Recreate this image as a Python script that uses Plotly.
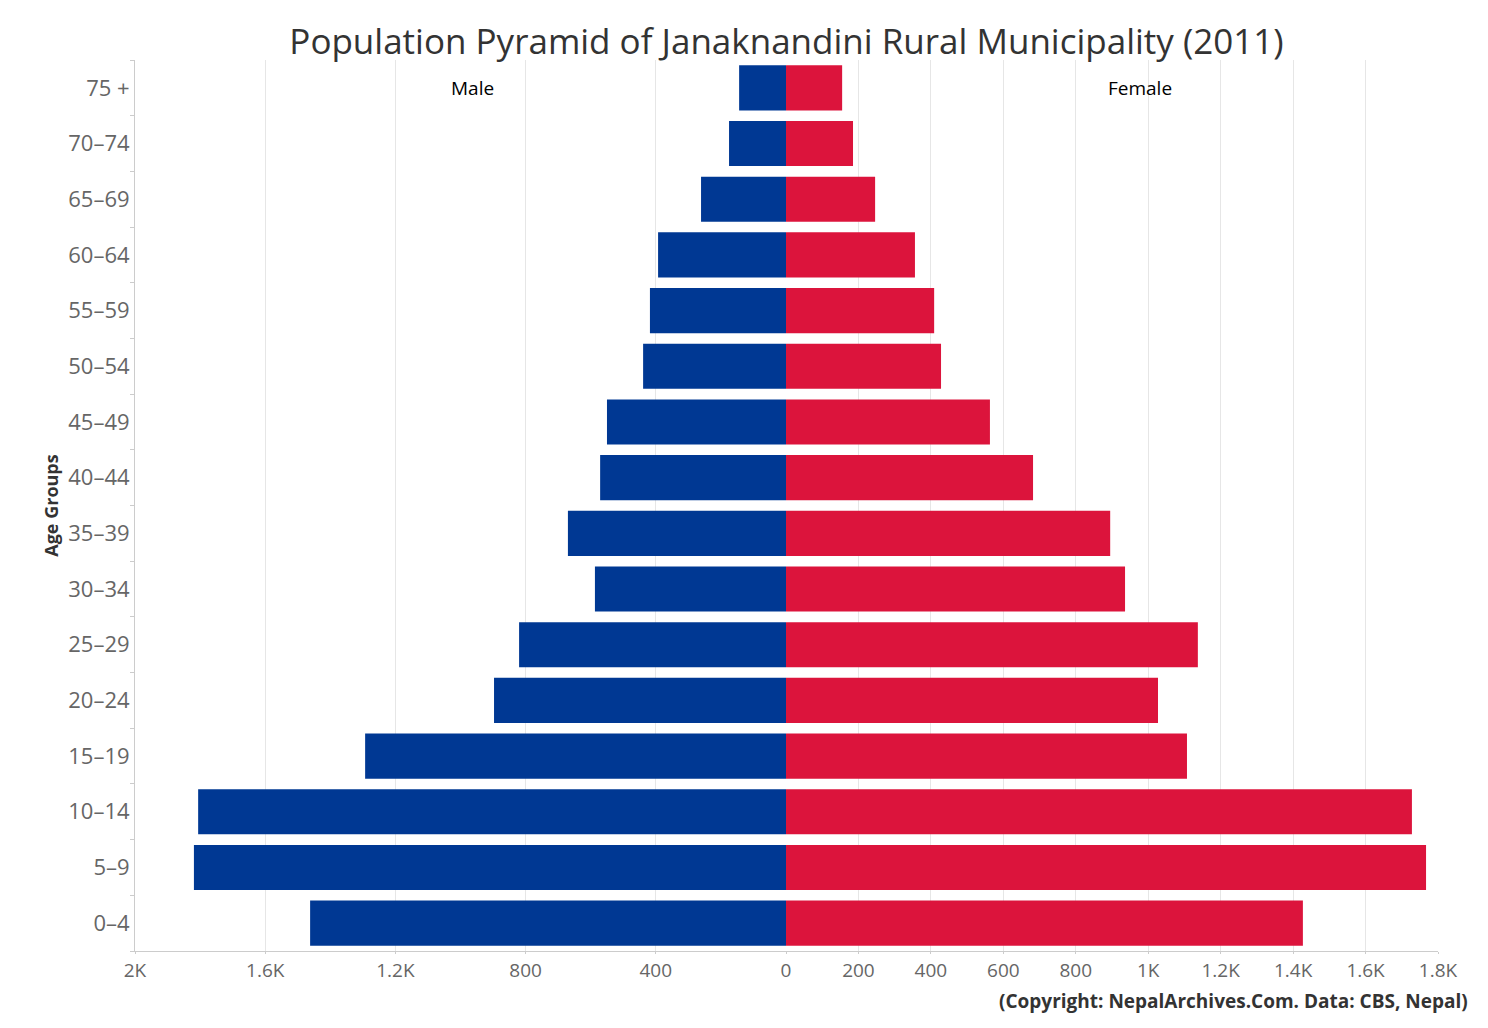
import plotly.graph_objects as go

age_groups = ["0–4", "5–9", "10–14", "15–19", "20–24", "25–29", "30–34", "35–39",
              "40–44", "45–49", "50–54", "55–59", "60–64", "65–69", "70–74", "75 +"]
male = [1462, 1819, 1806, 1293, 897, 820, 587, 670, 571, 550, 439, 418, 393, 261, 175, 144]
female = [1427, 1767, 1728, 1107, 1027, 1137, 936, 895, 682, 563, 428, 409, 356, 246, 185, 155]

male_ticks = [2000, 1600, 1200, 800, 400, 0]
male_ticklabels = ["2K", "1.6K", "1.2K", "800", "400", "0"]
female_ticks = [200, 400, 600, 800, 1000, 1200, 1400, 1600, 1800]
female_ticklabels = ["200", "400", "600", "800", "1K", "1.2K", "1.4K", "1.6K", "1.8K"]

FONT = "Open Sans, Noto Sans, sans-serif"

fig = go.Figure()
fig.add_trace(go.Bar(y=age_groups, x=male, orientation="h", name="Male",
                     marker=dict(color="#003893", line=dict(width=0)),
                     xaxis="x", yaxis="y"))
fig.add_trace(go.Bar(y=age_groups, x=female, orientation="h", name="Female",
                     marker=dict(color="#DC143C", line=dict(width=0)),
                     xaxis="x2", yaxis="y"))

split = 651 / 1303
xtickfont = dict(size=19, color="#666666", family=FONT)
fig.update_layout(
    width=1488, height=1028,
    margin=dict(l=135, r=50, t=60, b=77),
    paper_bgcolor="white", plot_bgcolor="white",
    showlegend=False,
    bargap=0.19,
    font=dict(family=FONT),
    title=dict(text="Population Pyramid of Janaknandini Rural Municipality (2011)",
               x=0.5, xref="paper", xanchor="center", y=1 - 42 / 1028, yanchor="middle",
               font=dict(size=35, color="#333333", family=FONT)),
    xaxis=dict(domain=[0, split], range=[2000, 0], tickvals=male_ticks, ticktext=male_ticklabels,
               showgrid=True, gridcolor="#e6e6e6", gridwidth=1, zeroline=False,
               showline=True, linecolor="#cccccc", ticks="outside", tickcolor="#cccccc", ticklen=2,
               tickfont=xtickfont, anchor="y"),
    xaxis2=dict(domain=[split, 1], range=[0, 1800], tickvals=female_ticks, ticktext=female_ticklabels,
                showgrid=True, gridcolor="#e6e6e6", gridwidth=1, zeroline=False,
                showline=True, linecolor="#cccccc", ticks="outside", tickcolor="#cccccc", ticklen=2,
                tickfont=xtickfont, anchor="y"),
    yaxis=dict(categoryorder="array", categoryarray=age_groups, showgrid=False,
               showline=True, linecolor="#cccccc", ticks="outside", tickson="boundaries",
               tickcolor="#cccccc", ticklen=4, anchor="x",
               tickfont=dict(size=22, color="#666666", family=FONT),
               title=dict(text="<b>Age Groups</b>", font=dict(size=18, color="#333333", family=FONT),
                          standoff=4)),
)

fig.add_annotation(text="Male", x=(472 - 135) / 1303, y=(951 - 88) / 891, xref="paper", yref="paper",
                   xanchor="center", yanchor="middle",
                   showarrow=False, font=dict(size=19, color="#000000", family=FONT))
fig.add_annotation(text="Female", x=(1140 - 135) / 1303, y=(951 - 88) / 891, xref="paper", yref="paper",
                   xanchor="center", yanchor="middle",
                   showarrow=False, font=dict(size=19, color="#000000", family=FONT))
fig.add_annotation(text="<b>(Copyright: NepalArchives.Com. Data: CBS, Nepal)</b>",
                   x=(1470 - 135) / 1303, y=(951 - 1001) / 891, xref="paper", yref="paper",
                   xanchor="right", yanchor="middle", showarrow=False,
                   font=dict(size=19, color="#333333", family=FONT))

fig.write_html("out.html")
